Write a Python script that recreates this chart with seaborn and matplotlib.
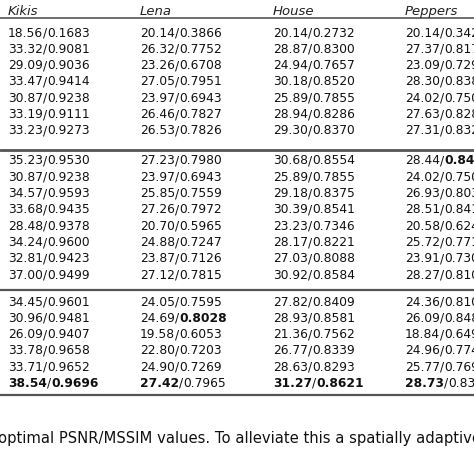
import matplotlib
matplotlib.use("Agg")
import matplotlib.pyplot as plt
import seaborn as sns

sns.set_theme(style="white")
plt.rcParams['font.family'] = ['DejaVu Sans']

columns = ["Kikis", "Lena", "House", "Peppers"]
kikis = ["18.56/0.1683","33.32/0.9081","29.09/0.9036","33.47/0.9414","30.87/0.9238","33.19/0.9111","33.23/0.9273",
         "35.23/0.9530","30.87/0.9238","34.57/0.9593","33.68/0.9435","28.48/0.9378","34.24/0.9600","32.81/0.9423","37.00/0.9499",
         "34.45/0.9601","30.96/0.9481","26.09/0.9407","33.78/0.9658","33.71/0.9652","38.54/0.9696"]
lena = ["20.14/0.3866","26.32/0.7752","23.26/0.6708","27.05/0.7951","23.97/0.6943","26.46/0.7827","26.53/0.7826",
        "27.23/0.7980","23.97/0.6943","25.85/0.7559","27.26/0.7972","20.70/0.5965","24.88/0.7247","23.87/0.7126","27.12/0.7815",
        "24.05/0.7595","24.69/0.8028","19.58/0.6053","22.80/0.7203","24.90/0.7269","27.42/0.7965"]
house = ["20.14/0.2732","28.87/0.8300","24.94/0.7657","30.18/0.8520","25.89/0.7855","28.94/0.8286","29.30/0.8370",
         "30.68/0.8554","25.89/0.7855","29.18/0.8375","30.39/0.8541","23.23/0.7346","28.17/0.8221","27.03/0.8088","30.92/0.8584",
         "27.82/0.8409","28.93/0.8581","21.36/0.7562","26.77/0.8339","28.63/0.8293","31.27/0.8621"]
peppers = ["20.14/0.3421","27.37/0.8172","23.09/0.7291","28.30/0.8381","24.02/0.7502","27.63/0.8283","27.31/0.8321",
           "28.44/0.8431","24.02/0.7502","26.93/0.8031","28.51/0.8411","20.58/0.6241","25.72/0.7711","23.91/0.7301","28.27/0.8101",
           "24.36/0.8101","26.09/0.8481","18.84/0.6491","24.96/0.7741","25.77/0.7691","28.73/0.8351"]
bold = {(7, 3): (False, True), (16, 1): (False, True),
        (20, 0): (True, True), (20, 1): (True, False), (20, 2): (True, True), (20, 3): (True, False)}

data = [kikis, lena, house, peppers]
col_x = [8, 140, 273, 405]
group_start = [33, 161, 302]
group_sizes = [7, 8, 6]
step = 16.3

fig = plt.figure(figsize=(4.74, 4.74), dpi=100)
ax = fig.add_axes([0, 0, 1, 1])
ax.set_xlim(0, 474)
ax.set_ylim(474, 0)
ax.axis("off")

fs = 8.8
for c, name in enumerate(columns):
    ax.text(col_x[c], 11, name, fontsize=9.5, style="italic", va="center", ha="left", color="#222")

row_y = []
for g, start in enumerate(group_start):
    for i in range(group_sizes[g]):
        row_y.append(start + i * step)

for c, col in enumerate(data):
    for r, s in enumerate(col):
        p, m = s.split("/")
        bp, bm = bold.get((r, c), (False, False))
        t1 = ax.text(col_x[c], row_y[r], p, fontsize=fs, va="center", ha="left", color="#111",
                     fontweight="bold" if bp else "normal")
        t2 = ax.annotate("/", xy=(1, 0), xycoords=t1, va="bottom", ha="left", fontsize=fs, color="#111")
        ax.annotate(m, xy=(1, 0), xycoords=t2, va="bottom", ha="left", fontsize=fs, color="#111",
                    fontweight="bold" if bm else "normal")

for y, lw in [(18, 1.2), (150, 2.0), (290, 1.6), (395, 1.6)]:
    ax.axhline(y, color="#555", lw=lw)

ax.text(-2, 438, "optimal PSNR/MSSIM values. To alleviate this a spatially adaptive",
        fontsize=10.6, va="center", ha="left", color="#111")

fig.savefig("out.png", dpi=100)
